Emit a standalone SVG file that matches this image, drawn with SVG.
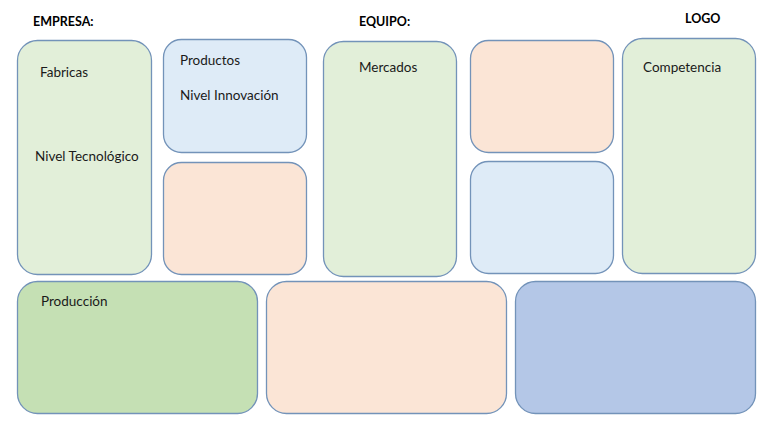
<svg xmlns="http://www.w3.org/2000/svg" width="768" height="433" viewBox="0 0 768 433">
<style>
.b{stroke:#7393b9;stroke-width:1.3}
.lg{fill:#e2efd9}.lb{fill:#deebf7}.pc{fill:#fbe5d6}.g{fill:#c5e0b4}.db{fill:#b4c7e7}
text{font-family:Lato,"Liberation Sans",sans-serif;font-size:13.5px;fill:#1a1a1a}
.h{font-weight:bold;font-size:12.5px;fill:#000}
</style>
<rect width="768" height="433" fill="#fff"/>
<g id="headers">
<text class="h" x="33" y="26">EMPRESA:</text>
<text class="h" x="359" y="26">EQUIPO:</text>
<text class="h" x="685" y="23">LOGO</text>
</g>
<g id="fabricas"><rect class="b lg" x="17.5" y="40.5" width="134" height="234" rx="20"/>
<text x="40" y="77">Fabricas</text><text x="35" y="161">Nivel Tecnológico</text></g>
<g id="productos"><rect class="b lb" x="163.5" y="39.5" width="143" height="113" rx="18"/>
<text x="180" y="65">Productos</text><text x="180" y="100">Nivel Innovación</text></g>
<g id="box3"><rect class="b pc" x="163.5" y="162.5" width="143" height="112" rx="18"/></g>
<g id="mercados"><rect class="b lg" x="323.5" y="41.5" width="133" height="235" rx="20"/>
<text x="359" y="72">Mercados</text></g>
<g id="box5"><rect class="b pc" x="470.5" y="40.5" width="143" height="112" rx="18"/></g>
<g id="box6"><rect class="b lb" x="470.5" y="161.5" width="143" height="112" rx="18"/></g>
<g id="competencia"><rect class="b lg" x="622.5" y="38.5" width="133" height="235" rx="20"/>
<text x="643" y="72">Competencia</text></g>
<g id="produccion"><rect class="b g" x="17.5" y="281.5" width="240" height="132" rx="20"/>
<text x="41" y="306">Producción</text></g>
<g id="box9"><rect class="b pc" x="266.5" y="281.5" width="240" height="132" rx="20"/></g>
<g id="box10"><rect class="b db" x="515.5" y="281.5" width="240" height="132" rx="20"/></g>
<g id="connectors"/>
</svg>
